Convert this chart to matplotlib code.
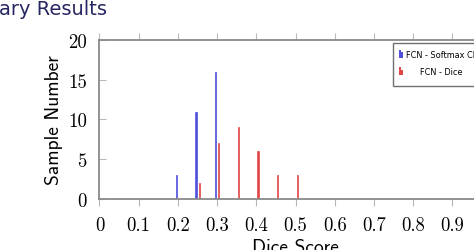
import matplotlib
matplotlib.use("Agg")
import matplotlib.pyplot as plt
from matplotlib.patches import Rectangle

# dice score bins and sample counts per method
softmax_x = [0.2, 0.25, 0.3]
softmax_n = [3, 11, 16]
dice_x = [0.25, 0.3, 0.35, 0.4, 0.45, 0.5]
dice_n = [2, 7, 9, 6, 3, 3]
xticks = [0, 0.1, 0.2, 0.3, 0.4, 0.5, 0.6, 0.7, 0.8, 0.9, 1.0]
xtick_labels = ["0", "0.1", "0.2", "0.3", "0.4", "0.5", "0.6", "0.7", "0.8", "0.9", "1"]
yticks = [0, 5, 10, 15, 20]

BLUE = "#5050dc"
RED = "#e04848"
AXIS = "#8a8a8a"

fig = plt.figure(figsize=(4.74, 2.51), dpi=100)
ax = fig.add_axes([0.2099, 0.2032, 0.8274, 0.6335])

ax.bar([x - 0.004 for x in softmax_x], softmax_n, width=0.003, color=BLUE,
       edgecolor=BLUE, linewidth=0.5)
ax.bar([x + 0.004 for x in dice_x], dice_n, width=0.003, color=RED,
       edgecolor=RED, linewidth=0.5)

ax.set_xlim(0, 1)
ax.set_ylim(0, 20)
ax.set_xticks(xticks)
ax.set_xticklabels(xtick_labels, family="cmr10", fontsize=13.5)
ax.set_yticks(yticks)
ax.set_yticklabels([str(v) for v in yticks], family="cmr10", fontsize=13.5)
ax.tick_params(axis="x", direction="out", length=5, width=0.8, color="#b8b8b8",
               top=True, pad=7)
ax.tick_params(axis="y", direction="in", length=5, width=0.8, color="#b8b8b8",
               right=True, pad=9)
for s in ax.spines.values():
    s.set_color(AXIS)
    s.set_linewidth(1.3)

ax.set_xlabel("Dice Score", family="cmss10", fontsize=14, labelpad=3)
ax.set_ylabel("Sample Number", family="cmss10", fontsize=14, labelpad=4)

# legend box drawn by hand (centred entries, pgfplots style)
fig.patches.append(Rectangle((393 / 474, 1 - 87 / 251), 0.2, 43 / 251,
                             transform=fig.transFigure, facecolor="white",
                             edgecolor="#707070", linewidth=1.0, zorder=5))
for color, ytop in [(BLUE, 50.5), (RED, 68)]:
    fig.patches.append(Rectangle((398.5 / 474, 1 - (ytop + 8) / 251), 2 / 474, 8 / 251,
                                 transform=fig.transFigure, facecolor=color,
                                 linewidth=0, zorder=6))
    fig.patches.append(Rectangle((401 / 474, 1 - (ytop + 8) / 251), 2 / 474, 5.5 / 251,
                                 transform=fig.transFigure, facecolor=color,
                                 linewidth=0, zorder=6))
fig.text(406.5 / 474, 1 - 55 / 251, "FCN - Softmax CE", fontsize=5.9,
         ha="left", va="center", zorder=7)
fig.text(441 / 474, 1 - 72.5 / 251, "FCN - Dice", fontsize=5.9,
         ha="center", va="center", zorder=7)

fig.text(-0.002, 1 - 15 / 251, "ary Results", fontsize=14, color="#262663",
         ha="left", va="baseline")

fig.savefig("out.png", dpi=100)
